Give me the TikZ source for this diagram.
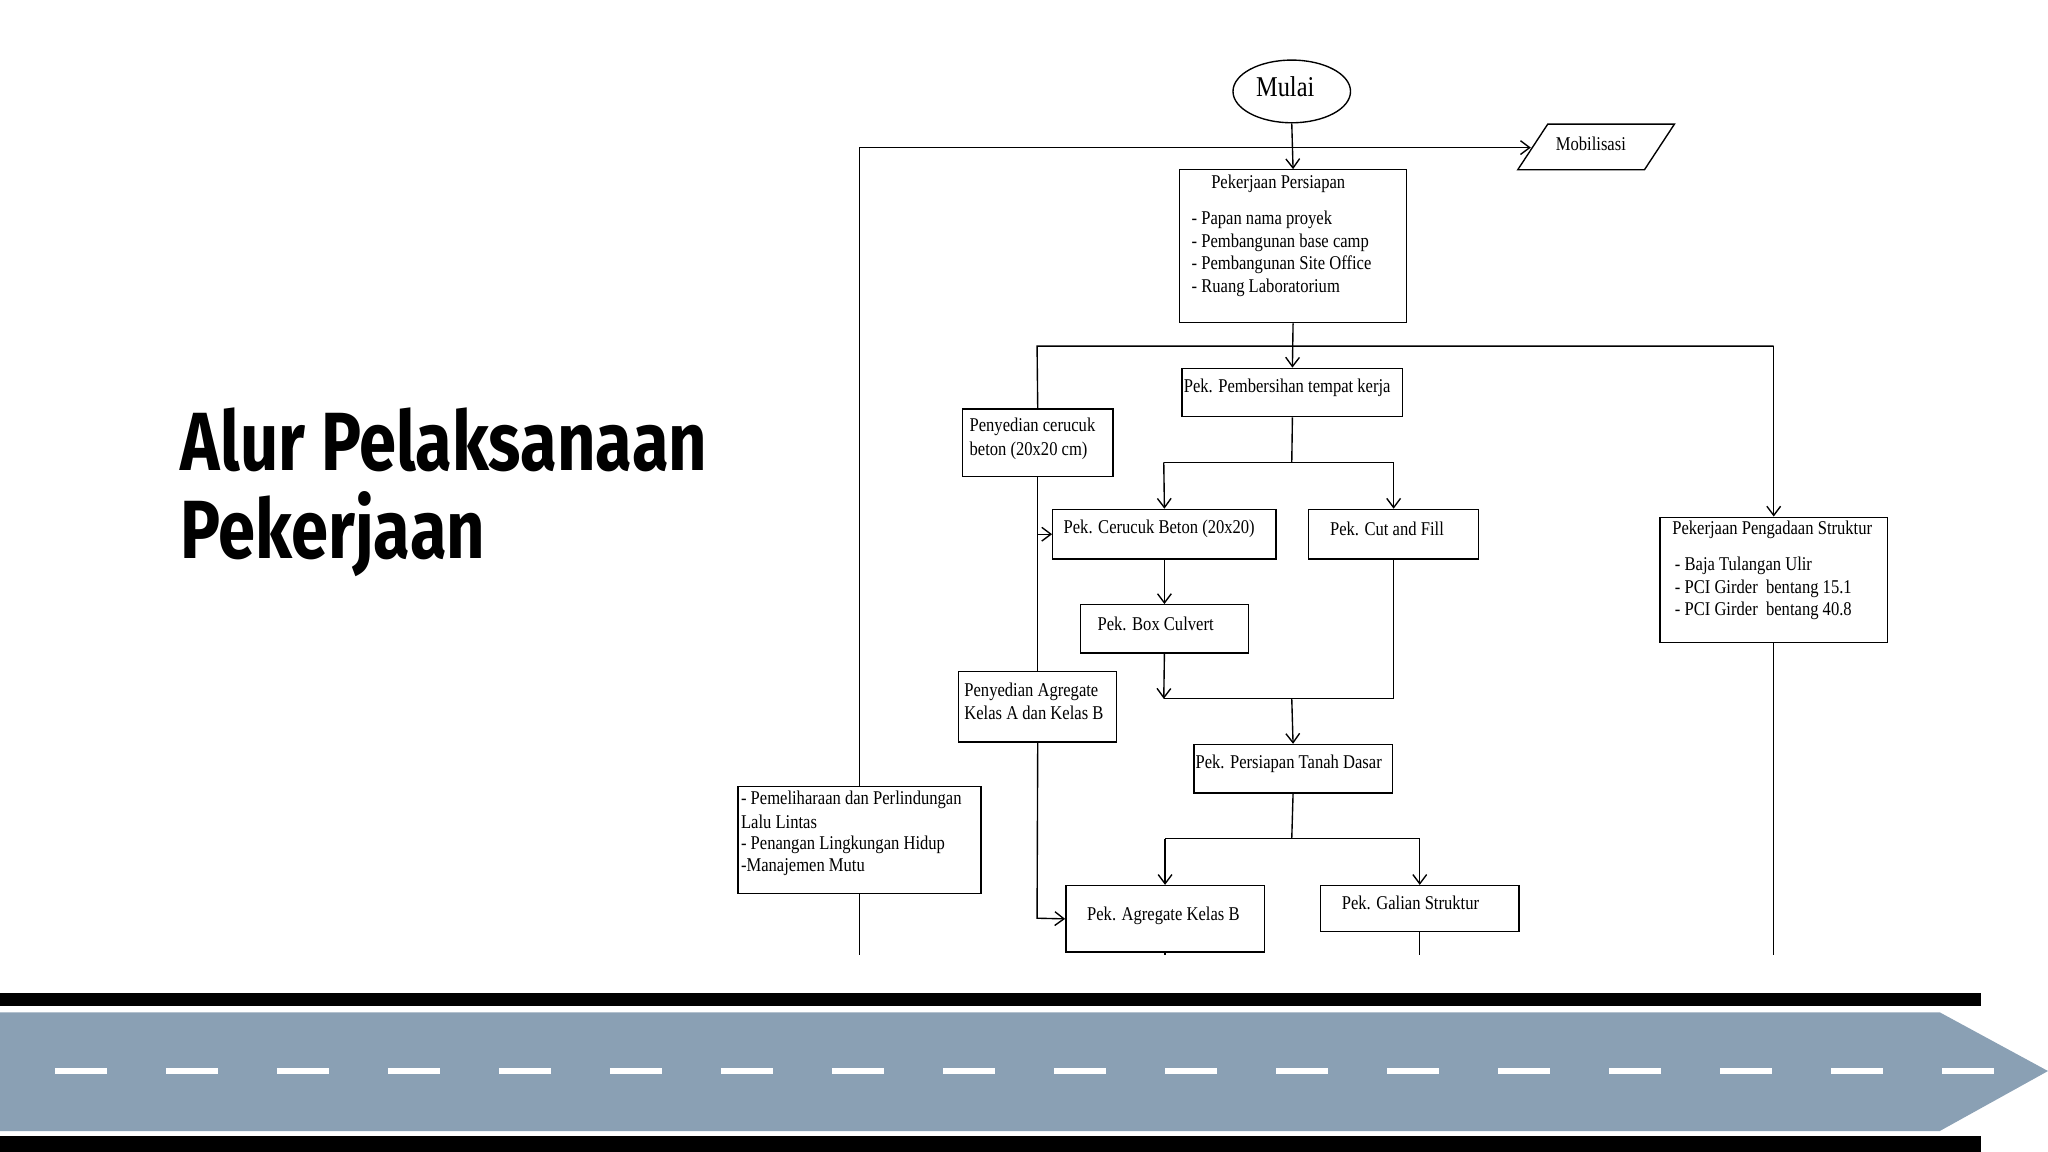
\documentclass[tikz,border=0pt]{standalone}
\usepackage{fontspec}
\setmainfont{Liberation Serif}[FakeStretch=0.85]
\newfontfamily\titlefont{Fira Sans}[FakeStretch=0.81,UprightFont=* Bold]
\usetikzlibrary{arrows.meta,shapes.geometric}
\definecolor{road}{HTML}{8AA0B4}
\tikzset{
  bx/.style={draw,line width=0.6pt,inner sep=0pt},
  tx/.style={anchor=west,inner sep=0pt,font=\fontsize{8.5}{10}\selectfont},
  ln/.style={line width=0.6pt},
  ar/.style={line width=0.6pt,-{Straight Barb[length=4pt,width=6pt]}},
}
\begin{document}
\begin{tikzpicture}[x=0.02cm,y=-0.02cm]
\useasboundingbox (0,0) rectangle (1568,882);
% title
\node[anchor=west,inner sep=0pt,font=\titlefont\fontsize{36}{40}\selectfont] (t1) at (138,337) {Alur Pelaksanaan};
\node[anchor=west,inner sep=0pt,font=\titlefont\fontsize{36}{40}\selectfont] (t2) at (138,409) {Pekerjaan};
% road
\fill (0,760) rectangle (1517,770);
\fill (0,870) rectangle (1517,882);
\fill[road] (0,775) -- (1485,775) -- (1568,820) -- (1485,866) -- (0,866) -- cycle;
\foreach \i in {0,...,17} \draw[white,line width=0.1cm] ({42+85*\i},820) -- ({82+85*\i},820);
% nodes
\node[draw,ellipse,line width=0.6pt,minimum width=1.8cm,minimum height=0.96cm,inner sep=0pt] (mulai) at (989,70) {};
\node[inner sep=0pt,font=\fontsize{12.5}{13}\selectfont] (mulaiT) at (984,66) {Mulai};
\draw[ln] (1162,130) -- (1185,95) -- (1282,95) -- (1259,130) -- cycle;
\coordinate (mob) at (1172,113);
\node[inner sep=0pt,font=\fontsize{8.5}{10}\selectfont] (mobT) at (1218,110) {Mobilisasi};
\node[bx,minimum width=3.48cm,minimum height=2.34cm] (pers) at (990,188.5) {};
\node[bx,minimum width=3.38cm,minimum height=0.74cm] (pemb) at (989.5,300.5) {};
\node[bx,minimum width=2.3cm,minimum height=1.04cm] (pcer) at (794.5,339) {};
\node[bx,minimum width=3.42cm,minimum height=0.76cm] (cer) at (891.5,409) {};
\node[bx,minimum width=2.6cm,minimum height=0.76cm] (cut) at (1067,409) {};
\node[bx,minimum width=2.58cm,minimum height=0.74cm] (box) at (891.5,481.5) {};
\node[bx,minimum width=2.42cm,minimum height=1.08cm] (pagr) at (794.5,541) {};
\node[bx,minimum width=3.04cm,minimum height=0.74cm] (tan) at (990,588.5) {};
\node[bx,minimum width=3.04cm,minimum height=1.02cm] (agrb) at (892,703.5) {};
\node[bx,minimum width=3.04cm,minimum height=0.7cm] (gal) at (1087,695.5) {};
\node[bx,minimum width=3.72cm,minimum height=1.64cm] (left) at (658,643) {};
\node[bx,minimum width=3.48cm,minimum height=1.92cm] (peng) at (1358,444) {};
% texts
\node[tx] (a1) at (927,141) {Pekerjaan Persiapan};
\node[tx] (a2) at (912,168) {- Papan nama proyek};
\node[tx] (a3) at (912,186) {- Pembangunan base camp};
\node[tx] (a4) at (912,203) {- Pembangunan Site Office};
\node[tx] (a5) at (912,220) {- Ruang Laboratorium};
\node[tx] (b1) at (906,297) {Pek. Pembersihan tempat kerja};
\node[tx] (c1) at (742,327) {Penyedian cerucuk};
\node[tx] (c2) at (742,345) {beton (20x20 cm)};
\node[tx] (d1) at (814,405) {Pek. Cerucuk Beton (20x20)};
\node[tx] (e1) at (1018,405) {Pek. Cut and Fill};
\node[tx] (f1) at (840,478) {Pek. Box Culvert};
\node[tx] (g1) at (738,530) {Penyedian Agregate};
\node[tx] (g2) at (738,546) {Kelas A dan Kelas B};
\node[tx] (h1) at (915,585) {Pek. Persiapan Tanah Dasar};
\node[tx] (i1) at (832,701) {Pek. Agregate Kelas B};
\node[tx] (j1) at (1027,691) {Pek. Galian Struktur};
\node[tx] (k1) at (567,612) {- Pemeliharaan dan Perlindungan};
\node[tx] (k2) at (567,629) {Lalu Lintas};
\node[tx] (k3) at (567,647) {- Penangan Lingkungan Hidup};
\node[tx] (k4) at (567,664) {-Manajemen Mutu};
\node[tx] (l1) at (1280,406) {Pekerjaan Pengadaan Struktur};
\node[tx] (l2) at (1282,433) {- Baja Tulangan Ulir};
\node[tx] (l3) at (1282,451) {- PCI Girder\ \ bentang 15.1};
\node[tx] (l4) at (1282,468) {- PCI Girder\ \ bentang 40.8};
% connectors
\coordinate (e0) at (658,731);
\coordinate (e1c) at (892,731);
\coordinate (e2) at (1087,731);
\coordinate (e3) at (1358,731);
\draw[ar] (mulai.south) -- (pers.north);
\draw[ar] (left.north) -- (658,113) -- (mob);
\draw[ar] (pers.south) -- (pemb.north);
\draw[ln] (pcer.north) -- (794,265) -- (1358,265);
\draw[ar] (1358,265) -- (peng.north);
\draw[ln] (pemb.south) -- (989,354);
\draw[ln] (891,354) -- (1067,354);
\draw[ar] (891,354) -- (cer.north);
\draw[ar] (1067,354) -- (cut.north);
\draw[ln] (pcer.south) -- (pagr.north);
\draw[ar] (794,409) -- (cer.west);
\draw[ar] (cer.south) -- (box.north);
\draw[ar] (box.south) -- (891,535);
\draw[ln] (891,535) -- (1067,535) -- (cut.south);
\draw[ar] (989,535) -- (tan.north);
\draw[ln] (tan.south) -- (989,642);
\draw[ln] (892,642) -- (1087,642);
\draw[ar] (892,642) -- (agrb.north);
\draw[ar] (1087,642) -- (gal.north);
\draw[ar] (pagr.south) -- (794,703) -- (agrb.west);
\draw[ln] (left.south) -- (e0);
\draw[ln] (agrb.south) -- (e1c);
\draw[ln] (gal.south) -- (e2);
\draw[ln] (peng.south) -- (e3);
\end{tikzpicture}
\end{document}
